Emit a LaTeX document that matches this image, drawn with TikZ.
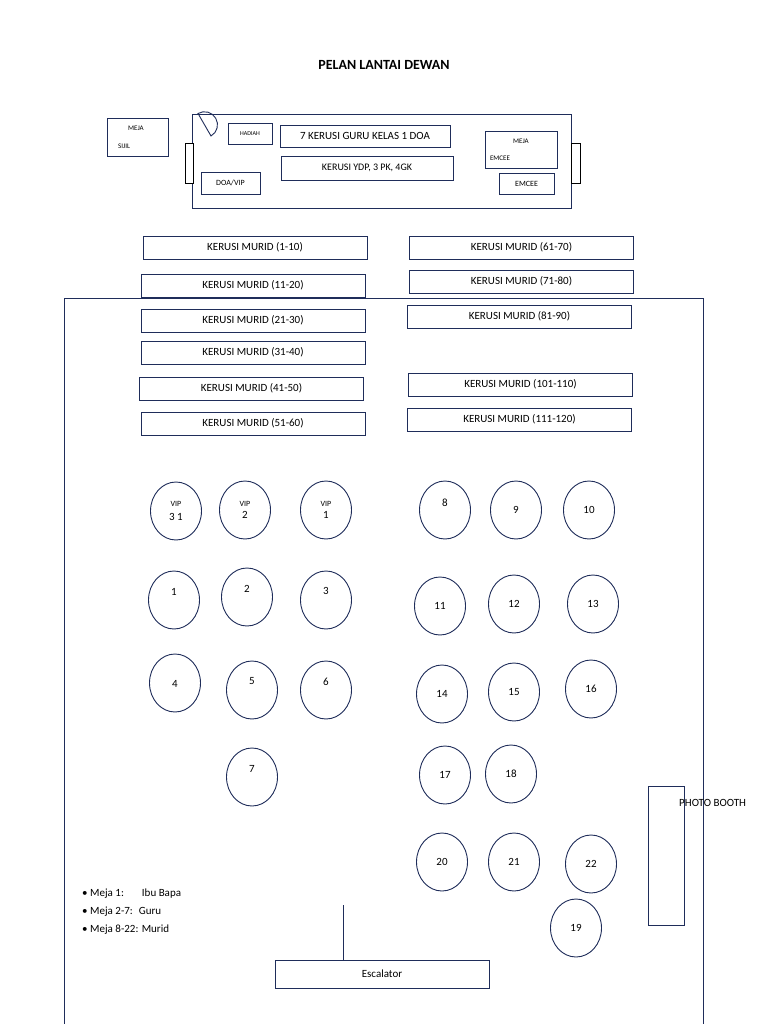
\documentclass[tikz,border=0pt]{standalone}
\usepackage{fontspec}
\usetikzlibrary{shapes.geometric}
\setmainfont{Carlito}
\definecolor{nv}{HTML}{1F2D5A}
\begin{document}
\begin{tikzpicture}[x=1pt,y=-1pt,
 bx/.style={draw=nv,line width=0.9pt,inner sep=0pt,font=\fontsize{11}{12}\selectfont},
 tb/.style={draw=nv,line width=0.9pt,ellipse,minimum width=51pt,minimum height=58pt,inner sep=0pt,font=\fontsize{11}{12}\selectfont},
 sm/.style={font=\fontsize{7}{8}\selectfont}]
\useasboundingbox (0,0) rectangle (768,1024);
\fill[white] (0,0) rectangle (768,1024);
\node[font=\bfseries\fontsize{14}{16}\selectfont] (title) at (384,65) {PELAN LANTAI DEWAN};
% hall outline
\draw[nv,line width=0.9pt] (64,1024) -- (64,298) -- (703,298) -- (703,1024);
% stage
\draw[nv,line width=0.9pt] (192,114) rectangle (571,208);
\draw[black,line width=0.7pt,fill=white] (185,143) rectangle (193,183);
\draw[black,line width=0.7pt,fill=white] (571,143) rectangle (580,183);
\draw[nv,line width=0.9pt] (107,118) rectangle (168,156);
\node[sm] (ms1) at (136,128) {MEJA};
\node[sm] (ms2) at (124,146) {SIJIL};
\node[bx,minimum width=44pt,minimum height=21pt,font=\fontsize{6}{7}\selectfont] (hadiah) at (250,133.5) {HADIAH};
\node[bx,minimum width=170pt,minimum height=22pt] (guru) at (365,136) {7 KERUSI GURU KELAS 1 DOA};
\node[bx,minimum width=172pt,minimum height=24pt,font=\fontsize{10}{12}\selectfont] (ydp) at (367,168) {KERUSI YDP, 3 PK, 4GK};
\node[bx,minimum width=59pt,minimum height=22pt,font=\fontsize{8}{9}\selectfont] (doa) at (230.5,183) {DOA/VIP};
\draw[nv,line width=0.9pt] (485,131) rectangle (557,168);
\node[sm] (me1) at (521,141) {MEJA};
\node[sm] (me2) at (500,158) {EMCEE};
\node[bx,minimum width=55pt,minimum height=21pt,font=\fontsize{8}{9}\selectfont] (emcee) at (526.5,183.5) {EMCEE};
\draw[nv,line width=0.9pt] (211,136) arc (60:-120:13) -- cycle;
% kerusi
\foreach \n/\x/\y/\t in {k1/255/247.5/{1-10},k2/253/285.5/{11-20},k3/253/320.5/{21-30},k4/253/352.5/{31-40},k5/251.5/388.5/{41-50},k6/253/423.5/{51-60},
 k7/521.5/247.5/{61-70},k8/521.5/281.5/{71-80},k9/519.5/316.5/{81-90},k10/520.5/384.5/{101-110},k11/519.5/419.5/{111-120}}
 \node[bx,fill=white,minimum width=224pt,minimum height=23pt] (\n) at (\x,\y) {KERUSI MURID (\t)};
% tables
\node[tb,align=center] (vip3) at (176,511) {\fontsize{8}{10}\selectfont VIP\\[2pt]3 1};
\node[tb,align=center] (vip2) at (245,510) {\fontsize{8}{10}\selectfont VIP\\2};
\node[tb,align=center] (vip1) at (326,510) {\fontsize{8}{10}\selectfont VIP\\1};
\foreach \n/\x/\y in {8/445/510,9/516/510,10/589/510,1/174/600,2/247/597,3/326/600,11/440/606,12/514/604,13/593/604,
 4/175/683,5/252/690,6/326/690,14/442/694,15/514/692,16/591/689,7/252/777,17/445/775,18/511/774,
 20/442/862,21/514/862,22/591/864,19/576/928}
 \node[tb] (t\n) at (\x,\y) {};
\foreach \n/\x/\y in {8/445/503,9/516/510,10/589/510,1/174/592,2/247/589,3/326/591,11/440/606,12/514/604,13/593/604,
 4/175/684,5/252/681,6/326/682,14/442/694,15/514/692,16/591/689,7/252/769,17/445/775,18/511/774,
 20/442/862,21/514/862,22/591/864,19/576/928}
 \node[font=\fontsize{11}{12}\selectfont] (l\n) at (\x,\y) {\n};
% photo booth
\draw[nv,line width=0.9pt] (648,786) rectangle (684,925);
\node[anchor=west,font=\fontsize{11}{12}\selectfont,inner sep=0pt] (pb) at (679,803) {PHOTO BOOTH};
% escalator
\node[bx,minimum width=214pt,minimum height=28pt,font=\fontsize{11}{12}\selectfont] (esc) at (382,974) {Escalator};
\coordinate (ec) at (343,905);
\draw[nv,line width=0.7pt] (ec) -- (343,960);
% legend
\node[anchor=west,font=\fontsize{11}{12}\selectfont,inner sep=0pt] (lg1) at (82,894) {\textbullet\ Meja 1:\hspace{18pt}Ibu Bapa};
\node[anchor=west,font=\fontsize{11}{12}\selectfont,inner sep=0pt] (lg2) at (82,912) {\textbullet\ Meja 2-7:\hspace{6pt}Guru};
\node[anchor=west,font=\fontsize{11}{12}\selectfont,inner sep=0pt] (lg3) at (82,930) {\textbullet\ Meja 8-22: Murid};
\end{tikzpicture}
\end{document}
